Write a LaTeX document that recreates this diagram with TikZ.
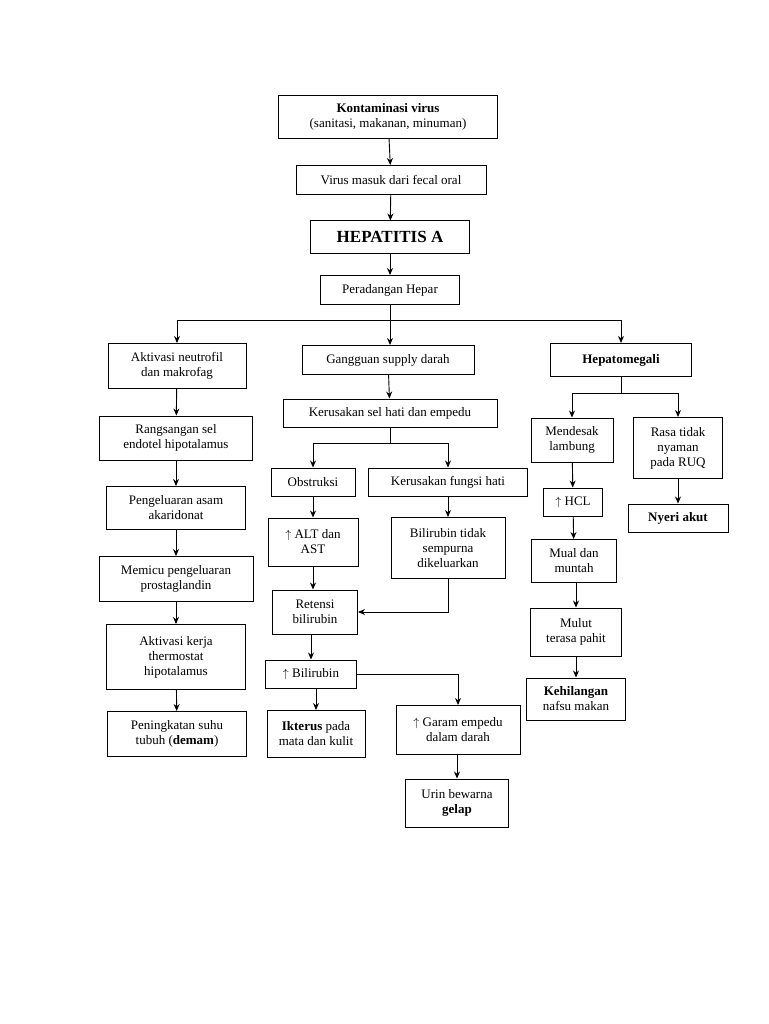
\documentclass[tikz,border=0pt]{standalone}
\usepackage{fontspec}
\setmainfont{Liberation Serif}
\usetikzlibrary{arrows.meta}
\begin{document}
\begin{tikzpicture}[x=1pt,y=-1pt,
  b/.style={draw,line width=1pt,align=center,inner sep=1pt,font=\fontsize{13}{15}\selectfont},
  ar/.style={-{Stealth[length=7pt,width=6pt]},line width=0.9pt},
  ln/.style={line width=0.9pt}]
\useasboundingbox (0,0) rectangle (768,1024);
\newcommand\bx[6]{\node[b,minimum width=#4,minimum height=#5] (#1) at (#2,#3) {#6};}
\bx{k}{388}{117}{219}{43}{\textbf{Kontaminasi virus}\\(sanitasi, makanan, minuman)}
\bx{v}{391}{180}{190}{29}{Virus masuk dari fecal oral}
\node[b,minimum width=159,minimum height=32,font=\fontsize{17}{19}\selectfont\bfseries] (h) at (390,237) {HEPATITIS A};
\bx{p}{390}{290}{139}{29}{Peradangan Hepar}
\bx{an}{177}{366}{138}{45}{Aktivasi neutrofil\\dan makrofag}
\bx{g}{388}{360}{172}{29}{Gangguan supply darah}
\bx{hm}{621}{360}{141}{33}{\textbf{Hepatomegali}}
\bx{r}{176}{438}{153}{44}{Rangsangan sel\\endotel hipotalamus}
\bx{pa}{176}{508}{139}{43}{Pengeluaran asam\\akaridonat}
\bx{m}{176}{579}{154}{45}{Memicu pengeluaran\\prostaglandin}
\bx{ak}{176}{657}{139}{65}{Aktivasi kerja\\thermostat\\hipotalamus}
\bx{ps}{177}{734}{139}{45}{Peningkatan suhu\\tubuh (\textbf{demam})}
\bx{ks}{390}{413}{214}{28}{Kerusakan sel hati dan empedu}
\bx{o}{313}{482}{84}{28}{Obstruksi}
\bx{kf}{448}{482}{159}{28}{Kerusakan fungsi hati}
\bx{alt}{313}{542}{90}{48}{$\uparrow$ ALT dan\\AST}
\bx{bt}{448}{548}{114}{61}{Bilirubin tidak\\sempurna\\dikeluarkan}
\bx{re}{315}{612}{85}{44}{Retensi\\bilirubin}
\bx{bi}{311}{674}{91}{28}{$\uparrow$ Bilirubin}
\bx{ik}{316}{734}{98}{47}{\textbf{Ikterus} pada\\mata dan kulit}
\bx{ga}{458}{730}{124}{49}{$\uparrow$ Garam empedu\\dalam darah}
\bx{u}{457}{803}{103}{48}{Urin bewarna\\\textbf{gelap}}
\bx{me}{572}{440}{82}{44}{Mendesak\\lambung}
\bx{rt}{678}{448}{89}{61}{Rasa tidak\\nyaman\\pada RUQ}
\bx{ny}{678}{518}{100}{28}{\textbf{Nyeri akut}}
\bx{hc}{573}{502}{59}{28}{$\uparrow$ HCL}
\bx{mu}{574}{561}{85}{43}{Mual dan\\muntah}
\bx{ml}{576}{632}{91}{48}{Mulut\\terasa pahit}
\bx{kh}{576}{699}{99}{42}{\textbf{Kehilangan}\\nafsu makan}
% connectors
\draw[ar] (k) -- (v);
\draw[ar] (v) -- (h);
\draw[ar] (h) -- (p);
\coordinate (s1) at (390,320);
\draw[ln] (p) -- (s1);
\draw[ar] (s1) -| (an.north);
\draw[ar] (s1) -| (hm.north);
\draw[ar] (s1) -- (g.north -| s1);
\draw[ar] (an) -- (r);
\draw[ar] (r) -- (pa);
\draw[ar] (pa) -- (m);
\draw[ar] (m) -- (ak);
\draw[ar] (ak) -- (ps);
\draw[ar] (g) -- (ks);
\coordinate (s2) at (390,443);
\draw[ln] (ks) -- (s2);
\draw[ar] (s2) -| (o.north);
\draw[ar] (s2) -| (kf.north);
\draw[ar] (o) -- (alt);
\draw[ar] (kf) -- (bt);
\draw[ar] (alt.south) -- (alt.south |- re.north);
\draw[ar] (bt.south) |- (re.east);
\draw[ar] (re.south -| bi) -- (bi);
\draw[ar] (bi.east) -| (ga.north);
\draw[ar] (bi.south -| ik) -- (ik);
\draw[ar] (ga.south -| u) -- (u);
\coordinate (s3) at (621,393);
\draw[ln] (hm) -- (s3);
\draw[ar] (s3) -| (me.north);
\draw[ar] (s3) -| (rt.north);
\draw[ar] (rt) -- (ny);
\draw[ar] (me) -- (hc);
\draw[ar] (hc) -- (mu);
\draw[ar] (mu.south -| ml) -- (ml);
\draw[ar] (ml) -- (kh);
\end{tikzpicture}
\end{document}
